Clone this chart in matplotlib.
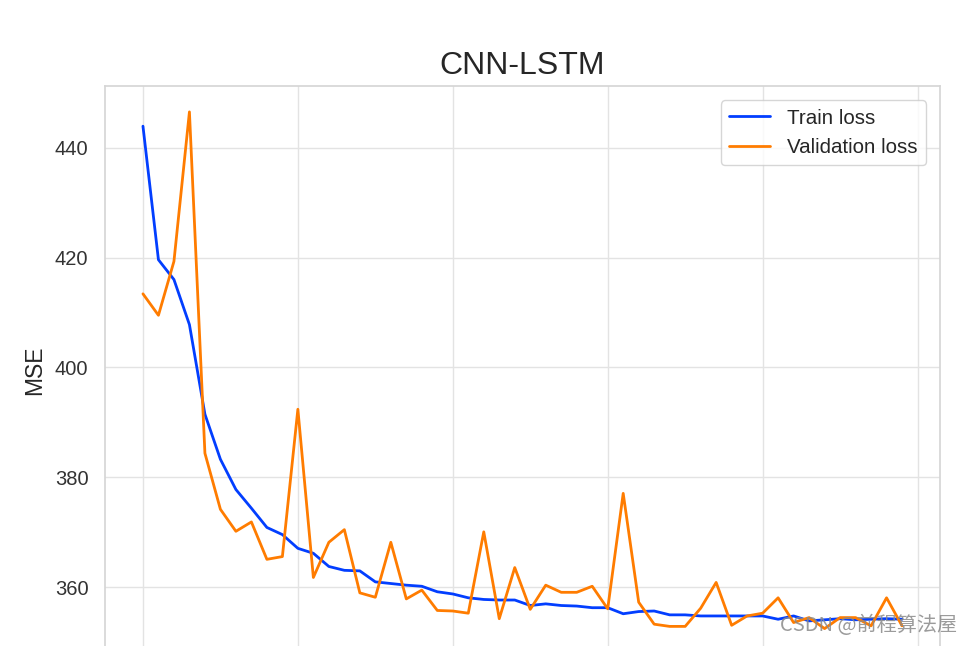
#!/usr/bin/env python3
# -*- coding: utf-8 -*-
import matplotlib
matplotlib.use("Agg")
import matplotlib.pyplot as plt
import seaborn as sns
import numpy as np

# loss values per epoch
train_loss = [443.9, 419.6, 416.0, 407.8, 391.5, 383.3, 377.8, 374.4, 370.9, 369.6,
              367.1, 366.2, 363.8, 363.1, 363.0, 361.0, 360.7, 360.4, 360.2, 359.2,
              358.8, 358.1, 357.8, 357.7, 357.7, 356.7, 357.0, 356.7, 356.6, 356.3,
              356.3, 355.2, 355.6, 355.7, 355.0, 355.0, 354.8, 354.8, 354.8, 354.8,
              354.8, 354.2, 354.8, 353.9, 354.1, 354.3, 354.1, 354.2, 354.3, 354.2]
val_loss = [413.4, 409.5, 419.3, 446.5, 384.4, 374.2, 370.2, 371.9, 365.1, 365.6,
            392.4, 361.8, 368.2, 370.5, 359.0, 358.2, 368.2, 357.9, 359.5, 355.8,
            355.7, 355.3, 370.1, 354.3, 363.6, 356.0, 360.4, 359.1, 359.1, 360.2,
            356.1, 377.1, 357.3, 353.3, 352.9, 352.9, 356.2, 360.9, 353.1, 354.8,
            355.3, 358.1, 353.6, 354.5, 352.5, 354.5, 354.5, 353.0, 358.1, 353.0]
labels = ["Train loss", "Validation loss"]
colors = ["#023eff", "#ff7c00"]

sns.set_theme(style="whitegrid")
plt.rcParams['font.family'] = ['Liberation Sans', 'DejaVu Sans']
plt.rcParams['text.color'] = '.15'

fig = plt.figure(figsize=(9.74, 6.46), dpi=100)
# axes run a bit past the bottom edge, like the cropped screenshot
ax = fig.add_axes([0.1078, -0.0139, 0.8573, 0.8807])

epochs = np.arange(len(train_loss))
ax.plot(epochs, train_loss, color=colors[0], lw=2.0, label=labels[0])
ax.plot(epochs, val_loss, color=colors[1], lw=2.0, label=labels[1])

ax.set_ylim(347.7, 451.2)
# x tick labels fall below the cropped edge, so none are shown
ax.set_xticks(np.arange(0, 51, 10))
ax.set_xticklabels([])
ax.set_yticks([360, 380, 400, 420, 440])
ax.tick_params(axis="y", labelsize=14.5, pad=6, labelcolor=".2")
ax.set_ylabel("MSE", fontsize=16.5, labelpad=6, color=".15")
ax.set_title("CNN-LSTM", fontsize=23, pad=9, color=".15")
ax.grid(color="#e3e3e3", lw=1.0)

for s in ax.spines.values():
    s.set_color("#d6d6d6")

ax.legend(loc="upper right", fontsize=14.8, frameon=True, borderaxespad=0.7)

# site watermark in the corner
fig.text(0.983, 0.015, "CSDN @前程算法屋", ha="right", va="bottom", fontsize=14.5,
         color="#8a8a8a", alpha=0.85, family=['Noto Sans CJK SC', 'DejaVu Sans'])

plt.savefig("out.png", dpi=100)
